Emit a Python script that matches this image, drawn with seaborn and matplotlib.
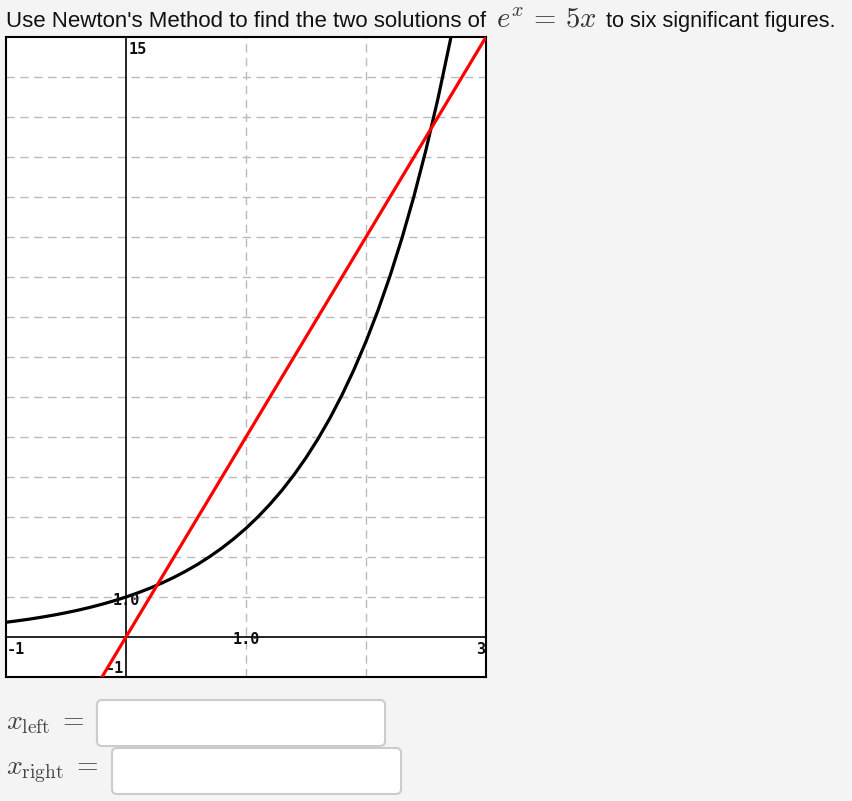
import matplotlib.pyplot as plt
import seaborn as sns
import pandas as pd
from matplotlib import font_manager
from matplotlib.patches import FancyBboxPatch

exp_x = [-1.0, -0.9, -0.8, -0.7, -0.6, -0.5, -0.4, -0.3, -0.2, -0.1,
         0.0, 0.1, 0.2, 0.3, 0.4, 0.5, 0.6, 0.7, 0.8, 0.9,
         1.0, 1.1, 1.2, 1.3, 1.4, 1.5, 1.6, 1.7, 1.8, 1.9,
         2.0, 2.1, 2.2, 2.3, 2.4, 2.5, 2.6, 2.7, 2.75]
exp_y = [0.368, 0.407, 0.449, 0.497, 0.549, 0.607, 0.670, 0.741, 0.819, 0.905,
         1.000, 1.105, 1.221, 1.350, 1.492, 1.649, 1.822, 2.014, 2.226, 2.460,
         2.718, 3.004, 3.320, 3.669, 4.055, 4.482, 4.953, 5.474, 6.050, 6.686,
         7.389, 8.166, 9.025, 9.974, 11.023, 12.182, 13.464, 14.880, 15.643]
# 5x line end points
line_x = [-0.25, 3.0]
line_y = [-1.25, 15.0]

x_range = [-1, 3]
y_range = [-1, 15]

sns.set_style("white")
plt.rcParams['mathtext.fontset'] = 'cm'

# regular Liberation Sans (not the Narrow variant)
sans = None
for f in font_manager.fontManager.ttflist:
    if f.name == 'Liberation Sans' and f.style == 'normal' and f.weight in (400, 'normal', 'regular'):
        sans = font_manager.FontProperties(fname=f.fname)
        break
if sans is None:
    sans = font_manager.FontProperties(family='DejaVu Sans')

W, H = 853, 801
fig = plt.figure(figsize=(W / 100, H / 100), dpi=100, facecolor='#f4f4f4')
ax = fig.add_axes([6 / W, 1 - 677 / H, 480 / W, 640 / H])
ax.set_facecolor('white')

# grid
for gx in range(x_range[0] + 1, x_range[1]):
    if gx != 0:
        ax.axvline(gx, color='#bbbbbb', lw=1, ls=(0, (6, 4)), zorder=1)
for gy in range(y_range[0] + 1, y_range[1]):
    if gy != 0:
        ax.axhline(gy, color='#bbbbbb', lw=1, ls=(0, (6, 4)), zorder=1)
ax.axhline(0, color='black', lw=1.2, zorder=2)
ax.axvline(0, color='black', lw=1.2, zorder=2)

df_exp = pd.DataFrame({'x': exp_x, 'y': exp_y})
df_lin = pd.DataFrame({'x': line_x, 'y': line_y})
sns.lineplot(data=df_exp, x='x', y='y', color='black', lw=2.3, sort=False, ax=ax, zorder=3)
sns.lineplot(data=df_lin, x='x', y='y', color='red', lw=2.3, sort=False, ax=ax, zorder=4)

ax.set_xlim(x_range)
ax.set_ylim(y_range)
ax.set_xticks([])
ax.set_yticks([])
ax.set_xlabel('')
ax.set_ylabel('')
for s in ax.spines.values():
    s.set_color('black')
    s.set_linewidth(1.5)

lab = dict(family='DejaVu Sans Mono', fontweight='bold', fontsize=11, color='#111111', zorder=5)
ax.text(0.02, 14.88, '15', ha='left', va='top', **lab)
ax.text(0, 0.92, '1.0', ha='center', va='center', **lab)
ax.text(-0.99, -0.3, '-1', ha='left', va='center', **lab)
ax.text(1, -0.05, '1.0', ha='center', va='center', **lab)
ax.text(2.99, -0.3, '3', ha='right', va='center', **lab)
ax.text(-0.02, -0.78, '-1', ha='right', va='center', **lab)

# title in three pieces, each scaled to the width it has in the reference
renderer = fig.canvas.get_renderer()
base = 1 - 27 / H
pieces = [("Use Newton's Method to find the two solutions of", 6, 488, True, '#111111'),
          ("$e^x\\,=\\,5x$", 496, 598, False, '#333333'),
          ("to six significant figures.", 606, 838, True, '#111111')]
for txt, x0, x1, plain, col in pieces:
    kw = dict(fontproperties=sans) if plain else {}
    t = fig.text(x0 / W, base, txt, ha='left', va='baseline', color=col, **kw)
    t.set_fontsize(14)
    w = t.get_window_extent(renderer).width
    t.set_fontsize(14 * (x1 - x0) / w)

fig.text(6 / W, 1 - 722 / H, '$x_{\\mathrm{left}}\\;=$', ha='left', va='center', fontsize=20, color='#444444')
fig.text(6 / W, 1 - 771 / H, '$x_{\\mathrm{right}}\\;=$', ha='left', va='center', fontsize=20, color='#444444')

for x0, x1, y0, y1 in [(97, 385, 700, 746), (112, 401, 748, 794)]:
    box = FancyBboxPatch((x0 / W, 1 - y1 / H), (x1 - x0) / W, (y1 - y0) / H,
                         boxstyle='round,pad=0,rounding_size=0.006',
                         transform=fig.transFigure, facecolor='white',
                         edgecolor='#cccccc', lw=1.5)
    fig.patches.append(box)

fig.savefig('out.png', dpi=100, facecolor=fig.get_facecolor())
